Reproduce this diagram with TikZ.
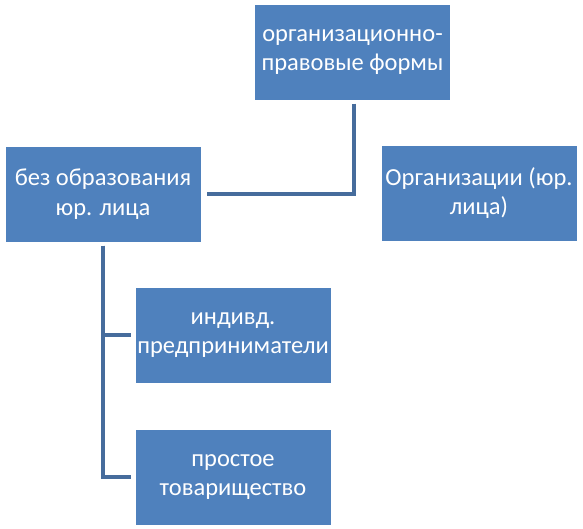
\documentclass[tikz,border=0pt]{standalone}
\usepackage{fontspec}
\setmainfont{Carlito}
\usetikzlibrary{positioning}
\definecolor{boxblue}{HTML}{4F81BD}
\definecolor{linkblue}{HTML}{466C9C}
\tikzset
{
    formnode/.style = {rectangle, fill=boxblue, text=white, align=center, minimum width=195pt, minimum height=95pt, inner sep=1pt, font=\fontsize{24.5}{29.5}\selectfont},
    link/.style = {draw=linkblue, line width=4pt}
}
\begin{document}
\begin{tikzpicture}[x=1pt, y=-1pt]
    \useasboundingbox (0,0) rectangle (583,528);
    \node [formnode] (forms) at (352.5, 52) {организационно-\\правовые формы};
    \node [formnode] (nolegal) at (103, 194) {без образования\\юр. лица};
    \node [formnode] (legal) at (479, 193) {Организации (юр.\\лица)};
    \node [formnode] (indiv) at (233, 335) {индивд.\\предприниматели};
    \node [formnode] (simple) at (233, 477) {простое\\товарищество};
    % ------------------------------------------------ connectors
    \draw [link, shorten <=4pt, shorten >=6pt] ([xshift=1.5pt]forms.south) |- (nolegal.east);
    \draw [link, shorten <=4pt, shorten >=4pt] (nolegal.south) |- (indiv.west);
    \draw [link, shorten <=4pt, shorten >=4pt] (nolegal.south) |- (simple.west);
\end{tikzpicture}
\end{document}
